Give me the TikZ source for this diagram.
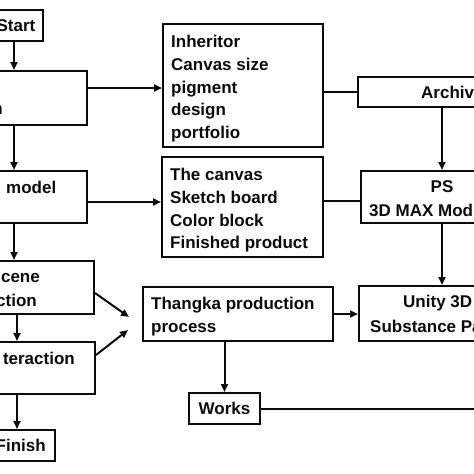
\documentclass[tikz,border=0pt]{standalone}
\usepackage{fontspec}
\setmainfont{Liberation Sans}
\usepackage{tikz}
\usetikzlibrary{arrows.meta,positioning,calc}
\definecolor{tinta}{HTML}{0B0B0B}

\begin{document}
\begin{tikzpicture}[x=1pt,y=-1pt,
    caja/.style={draw=tinta,line width=2pt,inner sep=0pt},
    texto/.style={inner sep=0pt,align=left,text=tinta,
                  font=\fontsize{17}{22.8}\selectfont\bfseries},
    flecha/.style={-{Triangle[length=8pt,width=7pt]},draw=tinta,line width=2pt},
    linea/.style={draw=tinta,line width=2pt}]
  \useasboundingbox (0,0) rectangle (474,474);
  \fill[white] (0,0) rectangle (474,474);
  \clip (0,0) rectangle (474,474);

  % columna izquierda (cortada por el borde)
  \node[caja,minimum width=83pt,minimum height=31pt]  (start)  at (1.5,25.5)  {};
  \node[caja,minimum width=187pt,minimum height=54pt] (info)   at (-6.5,98)   {};
  \node[caja,minimum width=187pt,minimum height=52pt] (model)  at (-6.5,197)  {};
  \node[caja,minimum width=194pt,minimum height=53pt] (scene)  at (-3,287.5)  {};
  \node[caja,minimum width=195pt,minimum height=52pt] (inter)  at (-2.5,368)  {};
  \node[caja,minimum width=95pt,minimum height=31pt]  (finish) at (7.5,445.5) {};

  % columna central
  \node[caja,minimum width=160pt,minimum height=123pt] (inherit) at (243,85.5)  {};
  \node[caja,minimum width=161pt,minimum height=100pt] (canvas)  at (242.5,207) {};
  \node[caja,minimum width=190pt,minimum height=54pt]  (thangka) at (238,314)   {};
  \node[caja,minimum width=71pt,minimum height=31pt]   (works)   at (224.5,408.5) {};

  % columna derecha
  \node[caja,minimum width=168pt,minimum height=30pt] (archive) at (442,92)    {};
  \node[caja,minimum width=162pt,minimum height=52pt] (ps)      at (442,197)   {};
  \node[caja,minimum width=166pt,minimum height=55pt] (unity)   at (442,313.5) {};

  % textos
  \node[texto,anchor=east] at (35.5,26)  {Start};
  \node[texto,anchor=east] at (3,110)    {n};
  \node[texto,anchor=west] at (6,187)    {model};
  \node[texto,anchor=east] at (40,278)   {cene};
  \node[texto,anchor=east] at (37,300)   {ction};
  \node[texto,anchor=east] at (75,358)   {teraction};
  \node[texto,anchor=east] at (46,445)   {Finish};
  \node[texto,anchor=north west] at (171,35)
    {Inheritor\\Canvas size\\pigment\\design\\portfolio};
  \node[texto,anchor=north west] at (170,168)
    {The canvas\\Sketch board\\Color block\\Finished product};
  \node[texto,anchor=north west] at (151,297)
    {Thangka production\\process};
  \node[texto,anchor=west]  at (421,92)  {Archiv};
  \node[texto]              at (442,187) {PS};
  \node[texto,anchor=west]  at (369,210) {3D MAX Mod};
  \node[texto,anchor=west]  at (403,303) {Unity 3D};
  \node[texto,anchor=west]  at (370,326) {Substance Pa};
  \node[texto] at (works) {Works};

  \coordinate (lcol)  at (14,0);
  \coordinate (lcolb) at (17,0);
  \coordinate (fuera) at (490,0);

  % flechas
  \draw[flecha] (start.south -| lcol) -- (info.north -| lcol);
  \draw[flecha] (info.south -| lcol) -- (model.north -| lcol);
  \draw[flecha] (model.south -| lcol) -- (scene.north -| lcol);
  \draw[flecha] (scene.south -| lcolb) -- (inter.north -| lcolb);
  \draw[flecha] (inter.south -| lcolb) -- (finish.north -| lcolb);
  \draw[flecha] ([yshift=-2.5pt]inherit.west -| info.east) -- ([yshift=-2.5pt]inherit.west);
  \draw[flecha] ([yshift=-5pt]model.east) -- ([yshift=-5pt]model.east -| canvas.west);
  \draw[flecha] ([yshift=-5.5pt]scene.east) -- ([xshift=-13pt,yshift=-3pt]thangka.west);
  \draw[flecha] ([yshift=13pt]inter.east) -- ([xshift=-14pt,yshift=-16pt]thangka.west);
  \draw[linea] (archive.west -| inherit.east) -- (archive.west);
  \draw[linea] ([yshift=-4pt]ps.west -| canvas.east) -- ([yshift=-4pt]ps.west);
  \draw[flecha] (archive.south) -- (ps.north);
  \draw[flecha] (ps.south) -- (unity.north);
  \draw[flecha] (thangka.east) -- (thangka.east -| unity.west);
  \draw[flecha] (works.north |- thangka.south) -- (works.north);
  \draw[linea] (works.east) -- (works.east -| fuera);
\end{tikzpicture}
\end{document}
